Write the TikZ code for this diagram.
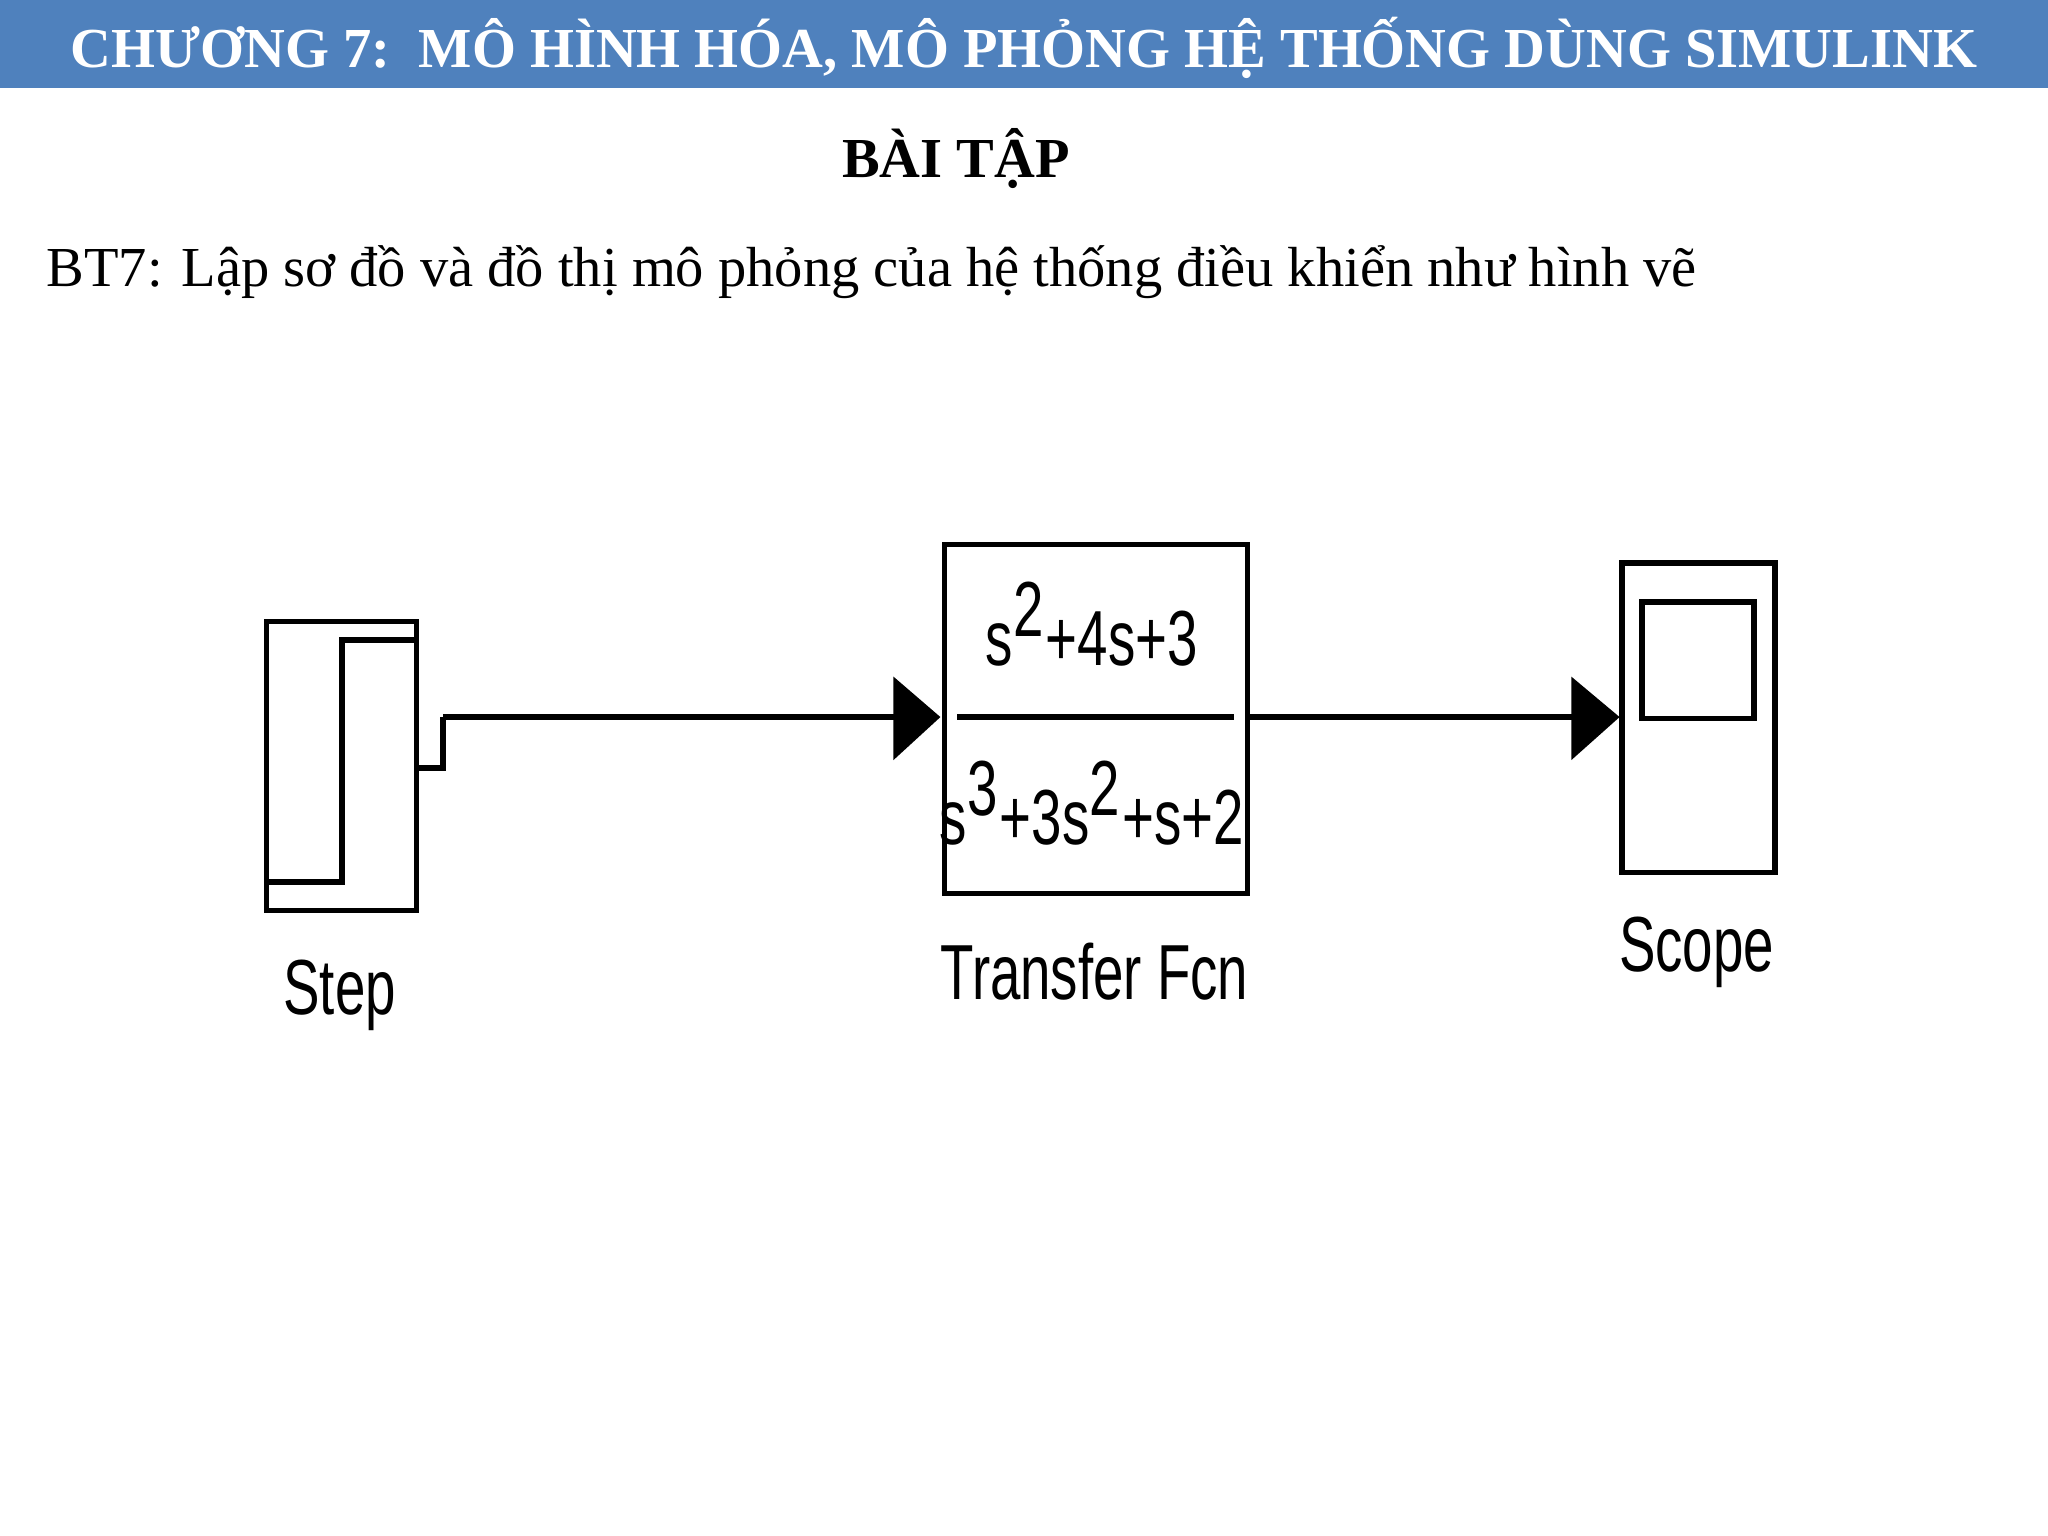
\documentclass[tikz,border=0pt]{standalone}
\usepackage{fontspec}
\setmainfont{Liberation Serif}
\setsansfont{Liberation Sans}[FakeStretch=0.7]
\begin{document}
\begin{tikzpicture}[x=0.01cm,y=-0.01cm,
  blk/.style={draw,line width=1.2pt,fill=none},
  wire/.style={line width=1.3pt},
  lbl/.style={font=\sffamily\fontsize{17}{17}\selectfont,inner sep=0pt},
  tip/.style={fill=black}]
\useasboundingbox (0,0) rectangle (1568,1176);
\fill[white] (0,0) rectangle (1568,1176);
\fill[color={rgb,255:red,79;green,129;blue,189}] (0,0) rectangle (1568,67);
\node[text=white,font=\bfseries\fontsize{12.3}{14}\selectfont,inner sep=0pt] (title) at (784,37) {CHƯƠNG 7:\ \ MÔ HÌNH HÓA, MÔ PHỎNG HỆ THỐNG DÙNG SIMULINK};
\node[font=\bfseries\fontsize{12.3}{14}\selectfont,inner sep=0pt] (bt) at (732,121) {BÀI TẬP};
\node[anchor=west,font=\fontsize{12.3}{14}\selectfont,inner sep=0pt] (q) at (35,208) {BT7: Lập sơ đồ và đồ thị mô phỏng của hệ thống điều khiển như hình vẽ};
% Step
\draw[blk] (204,476) rectangle (319,697);
\draw[wire] (204,675) -- (262,675) -- (262,490) -- (319,490);
\coordinate (so) at (339,549);
\draw[wire] (319,588) -- (339,588) -- (so);
% Transfer
\draw[blk] (723,417) rectangle (955,684);
\coordinate (tfout) at (955,549);
\draw[line width=1.3pt] (733,549) -- (945,549);
\node[lbl] (num) at (836,478) {s$^{\textsf{2}}$+4s+3};
\node[lbl] (den) at (836,615) {s$^{\textsf{3}}$+3s$^{\textsf{2}}$+s+2};
% Scope
\draw[blk] (1242,431) rectangle (1359,668);
\draw[blk] (1257,461) rectangle (1343,550);
% wires
\draw[wire] (so) -- (700,549);
\fill[tip] (684,518) -- (720,549) -- (684,582) -- cycle;
\draw[wire] (tfout) -- (1210,549);
\fill[tip] (1203,518) -- (1240,549) -- (1203,582) -- cycle;
% labels
\node[lbl] (sl) at (260,762) {Step};
\node[lbl] (tl) at (838,744) {Transfer Fcn};
\node[lbl] (cl) at (1299,729) {Scope};
\end{tikzpicture}
\end{document}
